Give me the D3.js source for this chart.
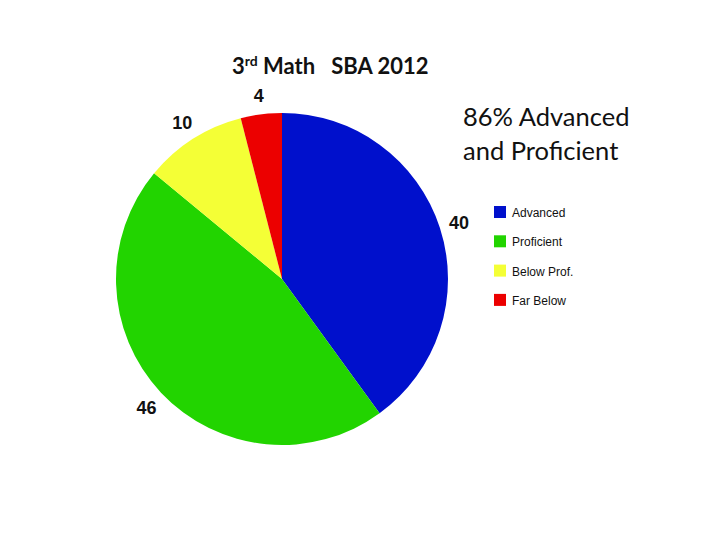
<!DOCTYPE html>
<html><head><meta charset="utf-8">
<script src="https://cdn.jsdelivr.net/npm/d3@7"></script>
<style>body{margin:0;background:#fff}svg{display:block}</style>
</head><body>
<svg id="c" width="720" height="540"></svg>
<script>
const categories = ["Advanced", "Proficient", "Below Prof.", "Far Below"];
const values = [40, 46, 10, 4];
const colors = ["#0010cc", "#22d400", "#f4ff36", "#ec0000"];

const svg = d3.select("#c");
const cx = 282, cy = 279, r = 166, lr = 186;

const pie = d3.pie().sort(null).value(d => d)(values);
const arc = d3.arc().innerRadius(0).outerRadius(r);
const larc = d3.arc().innerRadius(lr).outerRadius(lr);

const g = svg.append("g").attr("transform", `translate(${cx},${cy})`);
g.selectAll("path").data(pie).enter().append("path")
  .attr("d", arc).attr("fill", (d, i) => colors[i]);

g.selectAll("text.lbl").data(pie).enter().append("text")
  .attr("class", "lbl")
  .attr("transform", d => `translate(${larc.centroid(d)})`)
  .attr("text-anchor", "middle").attr("dy", "0.4em")
  .attr("font-family", "Liberation Sans, Arial, sans-serif")
  .attr("font-weight", "bold").attr("font-size", 18).attr("fill", "#111")
  .text(d => d.data);

// Title
const t = svg.append("text").attr("x", 232).attr("y", 74)
  .attr("font-family", "Lato, 'Open Sans', sans-serif").attr("font-weight", "bold")
  .attr("font-size", 22).attr("fill", "#111");
t.append("tspan").text("3");
t.append("tspan").attr("font-size", 14).attr("dy", -8).text("rd");
t.append("tspan").attr("dy", 8).text(" Math\u00a0\u00a0\u00a0SBA 2012");

// Annotation
const ann = svg.append("text").attr("font-family", "Lato, 'Open Sans', sans-serif")
  .attr("font-size", 25.5).attr("fill", "#111");
ann.append("tspan").attr("x", 463).attr("y", 126).text("86% Advanced");
ann.append("tspan").attr("x", 463).attr("y", 160).text("and Proficient");

// Legend
const leg = svg.append("g").attr("transform", "translate(494,206)");
const items = leg.selectAll("g").data(categories).enter().append("g")
  .attr("transform", (d, i) => `translate(0,${i * 29.3})`);
items.append("rect").attr("width", 12).attr("height", 12).attr("fill", (d, i) => colors[i]);
items.append("text").attr("x", 18).attr("y", 11)
  .attr("font-family", "Liberation Sans, Arial, sans-serif").attr("font-size", 12).attr("fill", "#111")
  .text(d => d);
</script>
</body></html>
